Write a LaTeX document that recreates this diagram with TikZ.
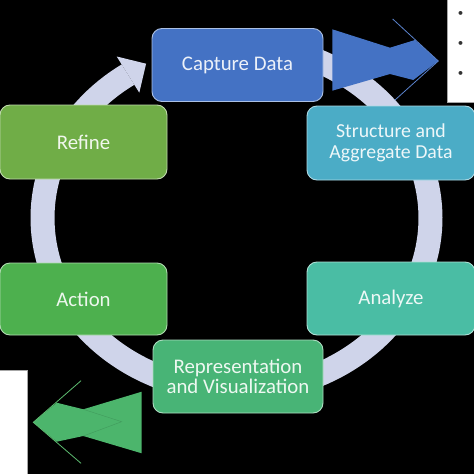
\documentclass[tikz,border=0pt]{standalone}
\usepackage{fontspec}
\setmainfont{Carlito}
\definecolor{capc}{HTML}{4472C4}
\definecolor{strc}{HTML}{4BACC6}
\definecolor{anac}{HTML}{4ABDA4}
\definecolor{repc}{HTML}{48B476}
\definecolor{actc}{HTML}{4DB04E}
\definecolor{refc}{HTML}{70AD47}
\definecolor{ringc}{HTML}{CFD4EA}
\definecolor{bluearr}{HTML}{4472C4}
\definecolor{bluelin}{HTML}{5A82CC}
\definecolor{greenarr}{HTML}{4CB56C}
\definecolor{greenlin}{HTML}{5DBB70}
\begin{document}
\begin{tikzpicture}[x=1pt,y=-1pt,
  box/.style={rectangle, rounded corners=10pt, draw=#1!45!white, line width=0.9pt, fill=#1,
    text=#1!10!white, align=center, inner sep=2pt,
    font=\fontsize{20.8}{20.5}\selectfont},
  whitebox/.style={fill=white, draw=gray!70, line width=1pt},
  bul/.style={font=\fontsize{11}{11}\selectfont, text=black!80}
]
\fill[black] (0,0) rectangle (474,474);
\useasboundingbox (0,0) rectangle (474,474);

% cycle ring
\draw[ringc, line width=24pt] plot[domain=-70:236, samples=150] ({236.5+194*cos(\x)},{218+173*sin(\x)});
\fill[ringc] (116.7,56.5) -- (146.1,63.7) -- (139.3,92.7) -- cycle;

% boxes
\node[box=capc, minimum width=171pt, minimum height=73pt] (capture) at (237.5,65) {Capture Data};
\node[box=strc, minimum width=168pt, minimum height=74pt, font=\fontsize{19.8}{21}\selectfont] (struct) at (391,143) {Structure and\\Aggregate Data};
\node[box=anac, minimum width=168pt, minimum height=73pt] (analyze) at (391,298.5) {Analyze};
\node[box=repc, minimum width=170pt, minimum height=73pt] (repr) at (238,376.5) {Representation\\and Visualization};
\node[box=actc, minimum width=167pt, minimum height=72pt] (action) at (83.5,299) {Action};
\node[box=refc, minimum width=167pt, minimum height=74pt] (refine) at (83.5,142) {Refine};

% blue notched arrow (top right)
\fill[bluearr] (332.3,29.3) -- (390,47.7) -- (415,40) -- (438.3,61) -- (413.3,80) -- (390,74) -- (332.3,90.7) -- cycle;
\draw[bluelin, line width=0.8pt] (392.7,19) -- (438.3,61) -- (395,100);

% green notched arrow (bottom left)
\fill[greenarr] (141.7,391.7) -- (83.3,409.3) -- (56.7,402.7) -- (33.3,422.3) -- (56.7,441.7) -- (83.3,436) -- (141.7,453.3) -- cycle;
\draw[greenlin, line width=0.8pt] (81,380.7) -- (33.3,422.3) -- (81,463.3);
\draw[greenarr!85!black, line width=0.4pt] (83.3,409.3) -- (121.7,421.7) -- (83.3,436);

% white boxes
\draw[whitebox] (447.5,-2) rectangle (476,102.5);
\node[bul] (b1) at (460.5,13.5) {•};
\node[bul] (b2) at (460.5,43.5) {•};
\node[bul] (b3) at (460.5,74) {•};
\draw[whitebox] (-2,370) rectangle (27,476);
\end{tikzpicture}
\end{document}
